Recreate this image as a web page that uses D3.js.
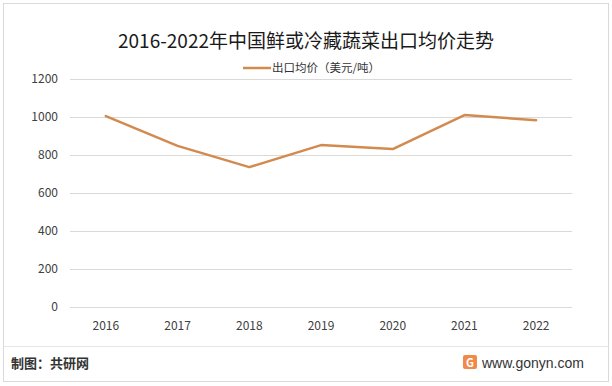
<!DOCTYPE html>
<html>
<head>
<meta charset="utf-8">
<script src="https://cdn.jsdelivr.net/npm/d3@7"></script>
<style>
body{margin:0;background:#fff;}
svg{display:block;font-family:"Microsoft YaHei","Noto Sans CJK SC",sans-serif;}
</style>
</head>
<body>
<svg id="svg" width="612" height="386"></svg>
<script>
var years = ['2016','2017','2018','2019','2020','2021','2022'];
var prices = [1005, 848, 736, 852, 831, 1010, 983];
var yTicks = [0, 200, 400, 600, 800, 1000, 1200];
var seriesName = '出口均价（美元/吨）';
var titleText = '2016-2022年中国鲜或冷藏蔬菜出口均价走势';

var svg = d3.select("#svg");
var padding = {top:79, right:40, bottom:79, left:70};
var chartArea = {
    width: 612 - padding.left - padding.right,
    height: 386 - padding.top - padding.bottom
};

// outer frame
svg.append("rect")
    .attr("x", 3.5).attr("y", 3.5)
    .attr("width", 605).attr("height", 378)
    .attr("fill", "#fff").attr("stroke", "#d9d9d9");

// footer separator
svg.append("line")
    .attr("x1", 3.5).attr("x2", 608.5)
    .attr("y1", 346.5).attr("y2", 346.5)
    .attr("stroke", "#e6e6e6");

var xScale = d3.scaleBand()
    .domain(years)
    .range([0, chartArea.width]);

var yScale = d3.scaleLinear()
    .domain([0, 1200])
    .range([chartArea.height, 0]);

var g = svg.append("g")
    .attr("transform", "translate(" + padding.left + "," + padding.top + ")");

// grid
g.append("g")
    .attr("class", "grid")
    .call(d3.axisLeft(yScale).tickValues(yTicks).tickSize(-chartArea.width).tickFormat(""))
    .call(function(s){
        s.select(".domain").remove();
        s.selectAll("line").attr("stroke", "#d9d9d9");
    });

// y axis labels
g.append("g")
    .call(d3.axisLeft(yScale).tickValues(yTicks).tickFormat(d3.format("d")).tickSize(0).tickPadding(12))
    .call(function(s){
        s.select(".domain").remove();
        s.selectAll("text").attr("font-size", 12).attr("fill", "#404040")
            .style("font-family", "'Microsoft YaHei','Noto Sans CJK SC',sans-serif");
    });

// x axis labels
g.append("g")
    .attr("transform", "translate(0," + chartArea.height + ")")
    .call(d3.axisBottom(xScale).tickSize(0).tickPadding(14))
    .call(function(s){
        s.select(".domain").remove();
        s.selectAll("text").attr("font-size", 12).attr("fill", "#404040")
            .style("font-family", "'Microsoft YaHei','Noto Sans CJK SC',sans-serif");
    });

// line
var line = d3.line()
    .x(function(d, i){ return xScale(years[i]) + xScale.bandwidth() / 2; })
    .y(function(d){ return yScale(d); });

g.append("path")
    .datum(prices)
    .attr("d", line)
    .attr("fill", "none")
    .attr("stroke", "#D38A4F")
    .attr("stroke-width", 2.5)
    .attr("stroke-linejoin", "round")
    .attr("stroke-linecap", "round");

// title
svg.append("text")
    .attr("x", 306).attr("y", 48)
    .attr("text-anchor", "middle")
    .attr("font-size", 19)
    .attr("fill", "#1a1a1a")
    .text(titleText);

// legend
svg.append("line")
    .attr("x1", 243).attr("x2", 271)
    .attr("y1", 68).attr("y2", 68)
    .attr("stroke", "#D38A4F").attr("stroke-width", 2.5);
svg.append("text")
    .attr("x", 272).attr("y", 72)
    .attr("font-size", 11.5)
    .attr("fill", "#333")
    .text(seriesName);

// footer
svg.append("text")
    .attr("x", 11).attr("y", 368)
    .attr("font-size", 13)
    .attr("font-weight", "bold")
    .attr("fill", "#333")
    .text("制图：共研网");

svg.append("rect")
    .attr("x", 463).attr("y", 355)
    .attr("width", 14).attr("height", 14)
    .attr("rx", 2)
    .attr("fill", "#F08A4B");
svg.append("text")
    .attr("x", 470).attr("y", 366.5)
    .attr("text-anchor", "middle")
    .attr("font-size", 11).attr("font-weight", "bold")
    .attr("fill", "#fff")
    .text("G");
svg.append("text")
    .attr("x", 482).attr("y", 368)
    .attr("font-size", 14)
    .attr("fill", "#333")
    .style("font-family", "'Liberation Sans',sans-serif")
    .text("www.gonyn.com");
</script>
</body>
</html>
